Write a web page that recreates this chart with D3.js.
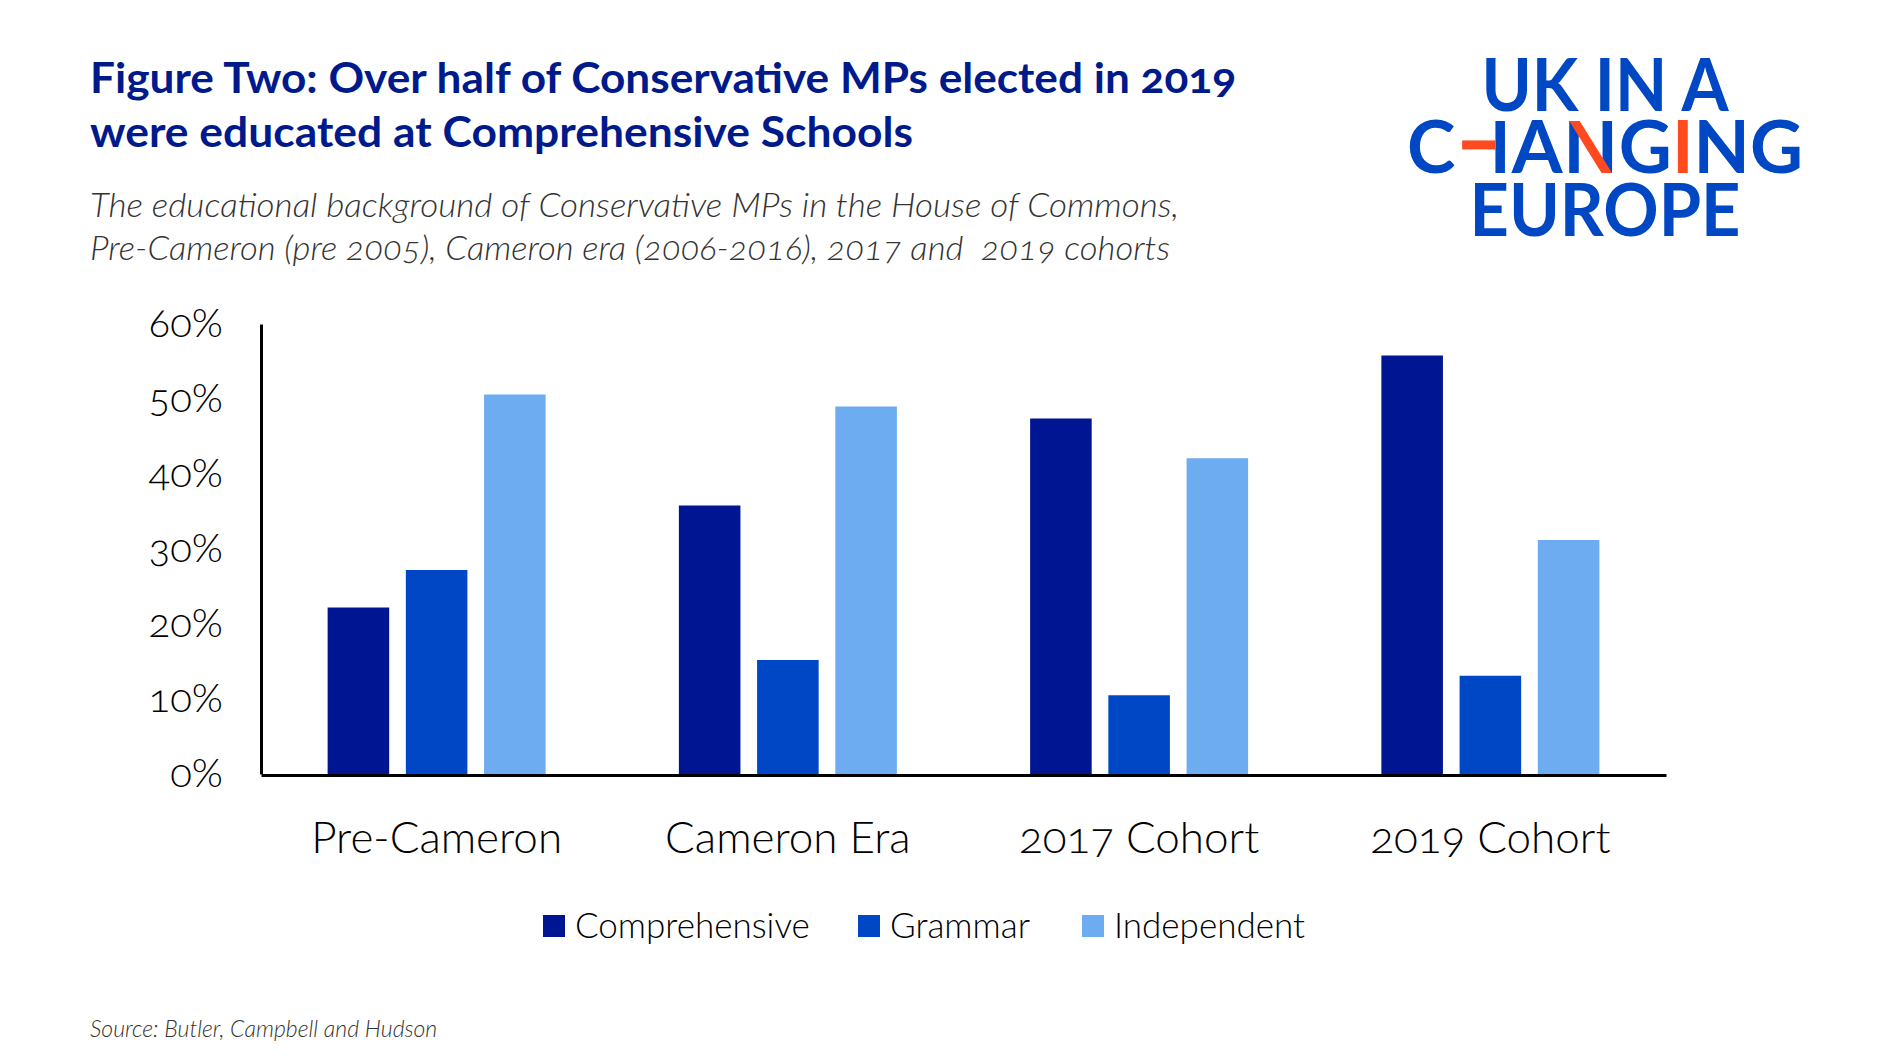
<!DOCTYPE html>
<html>
<head>
<meta charset="utf-8">
<script src="https://cdn.jsdelivr.net/npm/d3@7"></script>
<style>
  html, body { margin: 0; padding: 0; background: #ffffff; }
  svg { display: block; }
  text { font-family: Lato, "Open Sans", sans-serif; }
  .onum { font-variant-numeric: oldstyle-nums; font-feature-settings: "onum" 1; }
  .pre { white-space: pre; }
</style>
</head>
<body>
<script>
// ---------- data ----------
const categories = ["Pre-Cameron", "Cameron Era", "2017 Cohort", "2019 Cohort"];
const seriesNames = ["Comprehensive", "Grammar", "Independent"];
const comprehensive = [22.2, 35.8, 47.4, 55.8];
const grammar = [27.2, 15.2, 10.5, 13.1];
const independent = [50.6, 49.0, 42.1, 31.2];
const yTicks = [0, 10, 20, 30, 40, 50, 60];

const titleLines = ["Figure Two: Over half of Conservative MPs elected in 2019",
                    "were educated at Comprehensive Schools"];
const subtitleLines = ["The educational background of Conservative MPs in the House of Commons,",
                       "Pre-Cameron (pre 2005), Cameron era (2006-2016), 2017 and  2019 cohorts"];
const sourceText = "Source: Butler, Campbell and Hudson";

// ---------- styles ----------
const W = 1890, H = 1063;
const colors = ["#001591", "#0047C6", "#6EACF2"];
const navy = "#001A8C";
const logoBlue = "#0047C4";
const logoOrange = "#FF4A1F";

const seriesValues = [comprehensive, grammar, independent];
const table = categories.map((c, i) => ({
  category: c,
  values: seriesNames.map((s, j) => ({ series: s, value: seriesValues[j][i], idx: j }))
}));

const svg = d3.select("body").append("svg").attr("width", W).attr("height", H);
svg.append("rect").attr("width", W).attr("height", H).attr("fill", "#fff");

// ---------- titles ----------
const titleWidths = [1146, 823];
titleLines.forEach((t, i) => {
  svg.append("text").attr("class", "onum")
    .attr("x", 90).attr("y", [93, 147][i])
    .attr("font-size", 42).attr("font-weight", 700).attr("fill", navy)
    .attr("textLength", titleWidths[i]).attr("lengthAdjust", "spacingAndGlyphs")
    .text(t);
});
const subWidths = [1089, 1080];
subtitleLines.forEach((t, i) => {
  svg.append("text").attr("class", "onum pre")
    .attr("x", 90).attr("y", [217, 260][i])
    .attr("font-size", 34).attr("font-weight", 300).attr("font-style", "italic").attr("fill", "#333")
    .attr("textLength", subWidths[i]).attr("lengthAdjust", "spacingAndGlyphs")
    .text(t);
});

// ---------- scales ----------
const x0 = d3.scaleBand().domain(categories).range([261, 1666]).paddingInner(0).paddingOuter(0);
const x1 = d3.scaleBand().domain(seriesNames).range([-109, 109]).paddingInner(0.213).paddingOuter(0);
const y = d3.scaleLinear().domain([0, 60]).range([774, 324]);

// ---------- bars ----------
const g = svg.append("g");
const groups = g.selectAll("g.grp").data(table).join("g")
  .attr("class", "grp")
  .attr("transform", d => `translate(${x0(d.category) + x0.bandwidth() / 2},0)`);
groups.selectAll("rect").data(d => d.values).join("rect")
  .attr("x", d => x1(d.series))
  .attr("width", x1.bandwidth())
  .attr("y", d => y(d.value))
  .attr("height", d => y(0) - y(d.value))
  .attr("fill", d => colors[d.idx]);

// ---------- axes ----------
const yAxis = d3.axisLeft(y).tickValues(yTicks).tickSize(0).tickSizeOuter(0).tickPadding(38)
  .tickFormat(d => d + "%");
const yg = svg.append("g").attr("transform", "translate(261,0)").call(yAxis);
yg.select(".domain").attr("stroke", "#000").attr("stroke-width", 3);
yg.selectAll(".tick text").attr("class", "onum")
  .attr("font-size", 40).attr("font-family", "Lato, sans-serif").attr("font-weight", 300)
  .attr("fill", "#000");

const xAxis = d3.axisBottom(x0).tickSize(0).tickSizeOuter(0).tickPadding(47);
const xg = svg.append("g").attr("transform", "translate(0,775)").call(xAxis);
xg.select(".domain").attr("stroke", "#000").attr("stroke-width", 3);
xg.selectAll(".tick text").attr("class", "onum")
  .attr("font-size", 44).attr("font-family", "Lato, sans-serif").attr("font-weight", 300)
  .attr("fill", "#000");

// ---------- legend ----------
const legendX = [543, 858, 1082];
const lg = svg.append("g");
seriesNames.forEach((s, i) => {
  lg.append("rect").attr("x", legendX[i]).attr("y", 915).attr("width", 22).attr("height", 22)
    .attr("fill", colors[i]);
  lg.append("text").attr("x", legendX[i] + 32).attr("y", 938)
    .attr("font-size", 35).attr("font-weight", 300).attr("fill", "#000")
    .text(s);
});

// ---------- source ----------
svg.append("text").attr("x", 90).attr("y", 1037)
  .attr("font-size", 23).attr("font-style", "italic").attr("font-weight", 300).attr("fill", "#333")
  .text(sourceText);

// ---------- logo ----------
const logo = svg.append("g");
const fs = 72, cap = 52;
const logoLines = [
  { t: "UK IN A", b: 111, w: 247 },
  { t: "CHANGING", b: 173, w: 396 },
  { t: "EUROPE", b: 236, w: 271 }
];
logoLines.forEach((L, li) => {
  const txt = logo.append("text")
    .attr("x", 1605).attr("y", L.b).attr("text-anchor", "middle")
    .attr("font-size", fs).attr("font-weight", 700).attr("fill", logoBlue)
    .attr("textLength", L.w).attr("lengthAdjust", "spacingAndGlyphs");
  if (li !== 1) { txt.text(L.t); return; }
  const chars = L.t.split("");
  chars.forEach((c, ci) => {
    const ts = txt.append("tspan").text(c);
    if (ci === 1 || ci === 3) ts.attr("fill", "transparent");
    if (ci === 5) ts.attr("fill", logoOrange);
  });
  const node = txt.node();
  const top = L.b - cap, s = 9.5;
  // H: no left stem, orange crossbar, blue right stem
  const eh = node.getExtentOfChar(1);
  const hin = eh.width * 0.12;
  const hL = eh.x + hin, hR = eh.x + eh.width - hin;
  logo.append("rect").attr("x", hR - s).attr("y", top).attr("width", s).attr("height", cap).attr("fill", logoBlue);
  logo.append("rect").attr("x", hL).attr("y", top + cap * 0.46 - 4.5).attr("width", hR - s - hL).attr("height", 9).attr("fill", logoOrange);
  // N: blue stems, orange diagonal
  const en = node.getExtentOfChar(3);
  const nin = en.width * 0.12;
  const nL = en.x + nin, nR = en.x + en.width - nin;
  logo.append("rect").attr("x", nL).attr("y", top).attr("width", s).attr("height", cap).attr("fill", logoBlue);
  logo.append("rect").attr("x", nR - s).attr("y", top).attr("width", s).attr("height", cap).attr("fill", logoBlue);
  logo.append("polygon")
    .attr("points", [[nL, top], [nL + s + 1, top], [nR, L.b], [nR - s - 1, L.b]].map(p => p.join(",")).join(" "))
    .attr("fill", logoOrange);
});
</script>
</body>
</html>
